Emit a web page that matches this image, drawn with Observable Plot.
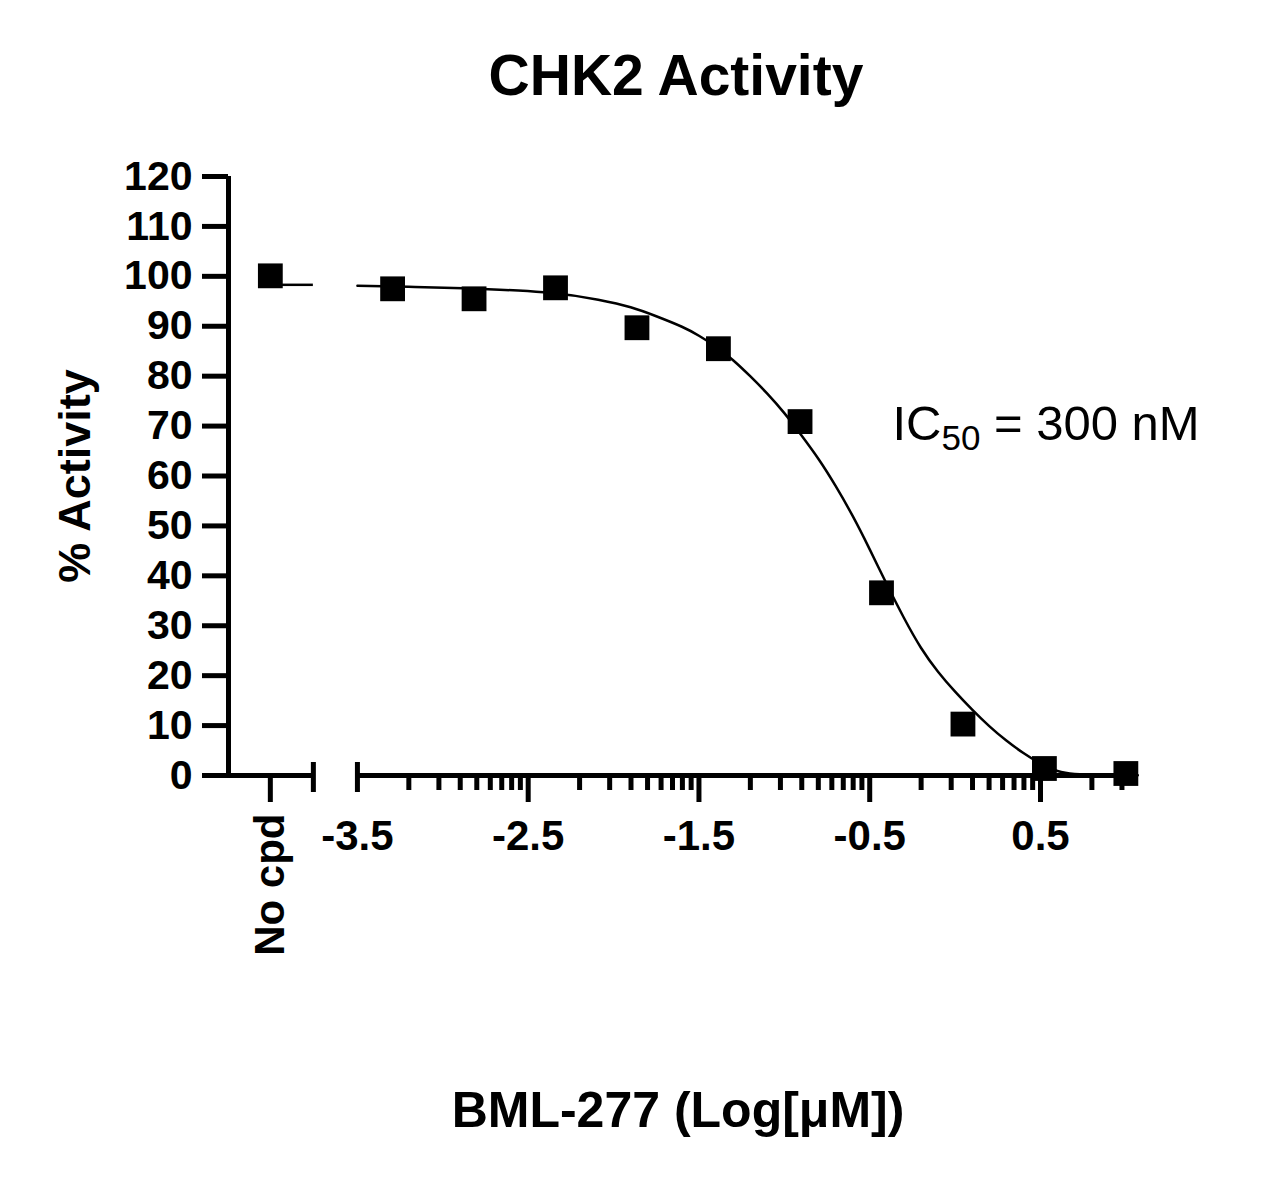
<!DOCTYPE html>
<html><head><meta charset="utf-8">
<script src="https://cdn.jsdelivr.net/npm/d3@7"></script>
<script src="https://cdn.jsdelivr.net/npm/@observablehq/plot@0.6"></script>
<style>
body{margin:0;background:#fff;font-family:"Liberation Sans",Arial,Helvetica,sans-serif;color:#000;}
#wrap{width:1270px;height:1188px;position:relative;overflow:hidden;background:#fff}
#title{height:140px;box-sizing:border-box;padding-top:47px;padding-left:82px;text-align:center;font-weight:bold;font-size:57px;line-height:57px;white-space:nowrap}
#chart svg{display:block}
#xlabel{height:148px;box-sizing:border-box;padding-top:45px;padding-left:86px;text-align:center;font-weight:bold;font-size:50px;line-height:50px;white-space:nowrap}
</style></head><body>
<div id="wrap">
  <div id="title">CHK2 Activity</div>
  <div id="chart"></div>
  <div id="xlabel">BML-277 (Log[μM])</div>
</div>
<script>
// ---- data ----
const pointLogConc = [-3.294, -2.817, -2.340, -1.863, -1.386, -0.908, -0.431, 0.046, 0.523, 1.000];
const pointActivity = [97.5, 95.5, 97.7, 89.7, 85.5, 70.9, 36.6, 10.3, 1.4, 0.4];
const noCpdLabel = "No cpd";
const noCpdActivity = 100.1;
const fitTop = 98.3;
const curveLogConc = [-3.5, -3.2, -2.88, -2.41, -2.09, -1.9, -1.75, -1.6, -1.5, -1.4, -1.3, -1.2, -1.1, -1.0, -0.91, -0.8, -0.7, -0.6, -0.5, -0.4, -0.3, -0.2, -0.1, 0.0, 0.1, 0.2, 0.3, 0.4, 0.5, 0.6, 0.7, 0.85, 1.07];
const curveActivity = [98.1, 97.9, 97.6, 96.8, 95.3, 93.8, 92.0, 89.9, 88.1, 85.9, 83.2, 80.0, 76.5, 72.6, 68.6, 63.4, 58.0, 52.0, 45.3, 38.3, 31.6, 25.6, 20.8, 16.8, 13.2, 9.9, 7.0, 4.5, 2.4, 0.9, 0.3, 0.1, 0.05];
const yTicks = [0, 10, 20, 30, 40, 50, 60, 70, 80, 90, 100, 110, 120];
const xTickValues = [-3.5, -2.5, -1.5, -0.5, 0.5];
const xTickLabels = ["-3.5", "-2.5", "-1.5", "-0.5", "0.5"];
const majorTicks = [-2.5, -1.5, -0.5, 0.5];
const decadeStarts = [-3.5, -2.5, -1.5, -0.5, 0.5];
const minorMultipliers = [2, 3, 4, 5, 6, 7, 8, 9];
const annotationMain = "IC";
const annotationSub = "50";
const annotationRest = " = 300 nM";
const yLabel = "% Activity";

// ---- layout of the broken axis (positions on the x scale) ----
const xDomain = [-4.255, 1.074];
const noCpdX = -4.01;
const breakLeft = -3.758;
const breakRight = -3.5;
const plateauStart = -3.94;
const annX = -0.367, annY = 67.2;

const minorTicks = [];
for (const d of decadeStarts) for (const m of minorMultipliers) {
  const v = d + Math.log10(m);
  if (v <= xDomain[1]) minorTicks.push(v);
}
const labelMap = new Map(xTickValues.map((v, i) => [v, xTickLabels[i]]));
const points = pointLogConc.map((x, i) => ({x, y: pointActivity[i]}));
const curve = curveLogConc.map((x, i) => ({x, y: curveActivity[i]}));

const font = '"Liberation Sans", Arial, Helvetica, sans-serif';
const SW = 5;

const chart = Plot.plot({
  width: 1270,
  height: 900,
  marginTop: 36,
  marginBottom: 265,
  marginLeft: 228,
  marginRight: 132,
  style: {fontFamily: font, fontSize: "41px", color: "black", background: "white", overflow: "visible"},
  x: {domain: xDomain},
  y: {domain: [0, 120]},
  marks: [
    // y axis
    Plot.ruleX([xDomain[0]], {y1: 0, y2: 120, strokeWidth: SW}),
    Plot.axisY({ticks: yTicks, tickSize: 26, tickPadding: 10, strokeWidth: SW, fontSize: 41, fontWeight: "bold", label: null}),
    Plot.text([yLabel], {frameAnchor: "left", rotate: -90, dx: -153, fontSize: 45, fontWeight: "bold", textAnchor: "middle", lineAnchor: "middle"}),
    // broken x axis line
    Plot.ruleY([0], {x1: xDomain[0], x2: breakLeft, strokeWidth: SW}),
    Plot.ruleY([0], {x1: breakRight, x2: xDomain[1], strokeWidth: SW}),
    // break caps
    Plot.axisX({ticks: [breakLeft, breakRight], tickSize: 30, dy: -13, tickFormat: () => "", strokeWidth: SW, label: null}),
    // ticks
    Plot.axisX({ticks: [noCpdX, ...majorTicks], tickSize: 27, tickFormat: () => "", strokeWidth: SW, label: null}),
    Plot.axisX({ticks: minorTicks, tickSize: 15, tickFormat: () => "", strokeWidth: SW, label: null}),
    Plot.axisX({ticks: xTickValues, tickSize: 0, tickPadding: 45, tickFormat: d => labelMap.get(d), fontSize: 42, fontWeight: "bold", label: null}),
    Plot.text([noCpdLabel], {x: noCpdX, frameAnchor: "bottom", rotate: -90, textAnchor: "end", lineAnchor: "middle", dy: 38, fontSize: 42, fontWeight: "bold"}),
    // fit curve
    Plot.line(curve, {x: "x", y: "y", curve: "natural", strokeWidth: 2.5, stroke: "black"}),
    Plot.ruleY([fitTop], {x1: plateauStart, x2: breakLeft, strokeWidth: 2.5}),
    // data points
    Plot.dot(points, {x: "x", y: "y", symbol: "square", r: 14, fill: "black"}),
    Plot.dot([noCpdActivity], {x: noCpdX, y: d => d, symbol: "square", r: 14, fill: "black"}),
    // annotation
    Plot.text([annotationMain], {x: annX, y: annY, textAnchor: "start", lineAnchor: "bottom", fontSize: 49, fontWeight: "normal", className: "ann"})
  ]
});
document.getElementById("chart").appendChild(chart);

// subscript for IC50
const annText = d3.select(chart).select("g.ann text");
if (!annText.empty()) {
  annText.text(null);
  annText.append("tspan").text(annotationMain);
  annText.append("tspan").attr("font-size", 35).attr("dy", 10).text(annotationSub);
  annText.append("tspan").attr("dy", -10).text(annotationRest);
}
</script>
</body></html>
